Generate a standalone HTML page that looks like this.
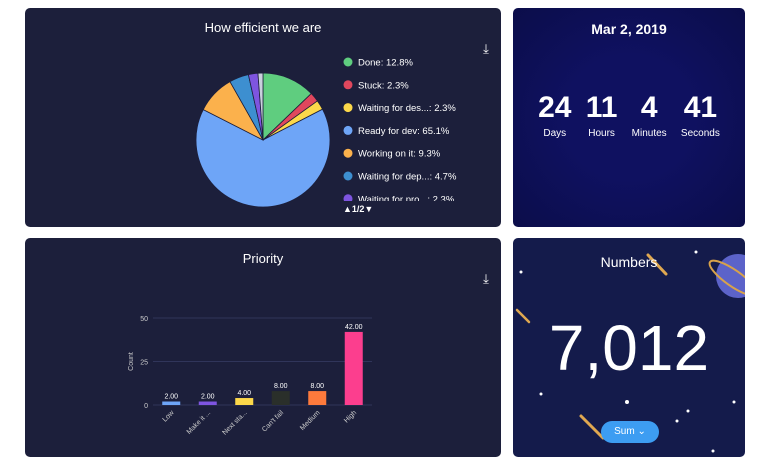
<!DOCTYPE html>
<html><head><meta charset="utf-8"><style>
body{margin:0;width:768px;height:467px;background:#fff;position:relative;overflow:hidden;font-family:"Liberation Sans",sans-serif;color:#fff}
.card{position:absolute;border-radius:5px;overflow:hidden}
.t{position:absolute;width:100%;text-align:center;font-size:13px}
</style></head><body>
<div class="card" style="left:25px;top:8px;width:476px;height:219px;background:#1c1f3b">
 <div class="t" style="top:12px">How efficient we are</div>
 <svg style="position:absolute;left:0;top:0" width="476" height="219" id="pie"><defs><clipPath id="lc"><rect x="300" y="40" width="170" height="153"/></clipPath></defs><g id="leg" clip-path="url(#lc)"></g></svg>
</div>
<div class="card" style="left:513px;top:8px;width:232px;height:219px;background:radial-gradient(ellipse at center,#0f1160 40%,#0b0d4a 100%)">
 <div class="t" style="top:13px;font-size:14px;font-weight:bold">Mar 2, 2019</div>
 <div style="position:absolute;top:83px;left:0;width:100%;display:flex;justify-content:space-around;padding:0 18px;box-sizing:border-box">
  <div style="text-align:center"><div style="font-size:30px;font-weight:bold">24</div><div style="font-size:10px;margin-top:3px">Days</div></div>
  <div style="text-align:center"><div style="font-size:30px;font-weight:bold">11</div><div style="font-size:10px;margin-top:3px">Hours</div></div>
  <div style="text-align:center"><div style="font-size:30px;font-weight:bold">4</div><div style="font-size:10px;margin-top:3px">Minutes</div></div>
  <div style="text-align:center"><div style="font-size:30px;font-weight:bold">41</div><div style="font-size:10px;margin-top:3px">Seconds</div></div>
 </div>
</div>
<div class="card" style="left:25px;top:238px;width:476px;height:219px;background:#1c1f3b">
 <div class="t" style="top:13px">Priority</div>
 <svg style="position:absolute;left:0;top:0" width="476" height="219" id="bar"></svg>
</div>
<div class="card" style="left:513px;top:238px;width:232px;height:219px;background:#141b4b">
 <svg style="position:absolute;left:0;top:0" width="232" height="219">
  <circle cx="225" cy="38" r="22" fill="#5c63c9"/>
  <ellipse cx="220" cy="40" rx="28" ry="8" fill="none" stroke="#d8a24a" stroke-width="2" transform="rotate(35 220 40)"/>
  <line x1="135" y1="17" x2="153" y2="36" stroke="#e0a850" stroke-width="3" stroke-linecap="round"/>
  <line x1="4" y1="72" x2="16" y2="84" stroke="#e0a850" stroke-width="2.5" stroke-linecap="round"/>
  <line x1="68" y1="178" x2="90" y2="200" stroke="#e0a850" stroke-width="3" stroke-linecap="round"/>
  <circle cx="8" cy="34" r="1.5" fill="#fff"/><circle cx="183" cy="14" r="1.5" fill="#fff"/><circle cx="28" cy="156" r="1.5" fill="#fff"/>
  <circle cx="114" cy="164" r="2" fill="#fff"/><circle cx="175" cy="173" r="1.5" fill="#fff"/><circle cx="164" cy="183" r="1.5" fill="#fff"/>
  <circle cx="221" cy="164" r="1.5" fill="#fff"/><circle cx="200" cy="213" r="1.5" fill="#fff"/>
 </svg>
 <div class="t" style="top:16px;font-size:14px">Numbers</div>
 <div class="t" style="top:73px;font-size:64px;font-weight:300">7,012</div>
 <div style="position:absolute;left:88px;top:183px;width:58px;height:22px;border-radius:11px;background:#3d9df2;font-size:10px;text-align:center;line-height:22px">Sum ⌄</div>
</div>
<script>
const pieLabels=["Done","Stuck","Waiting for des...","Ready for dev","Working on it","Waiting for dep...","Waiting for pro...","Other"];
const pieValues=[12.8,2.3,2.3,65.1,9.3,4.7,2.3,1.2];
const pieColors=["#5fcd7f","#e0475d","#fcd84a","#6ea5f7","#fbb14c","#3d8fd0","#7e55e0","#c9d0dc"];
const barCats=["Low","Make it ...","Next sta...","Can't fail","Medium","High"];
const barValues=[2,2,4,8,8,42];
const barColors=["#6ea5f7","#7e55e0","#fcd84a","#2a2f2a","#fd7a3c","#fc3e8e"];
const yTicks=[0,25,50];
const NS="http://www.w3.org/2000/svg";
function mk(p,t,a){const e=document.createElementNS(NS,t);for(const k in a)e.setAttribute(k,a[k]);p.appendChild(e);return e;}
// pie
const pie=document.getElementById('pie');
const leg=document.getElementById('leg');
const cx=238,cy=132,r=67;let tot=pieValues.reduce((a,b)=>a+b,0),ang=-Math.PI/2;
pieValues.forEach((v,i)=>{const a2=ang+v/tot*2*Math.PI;
 const x1=cx+r*Math.cos(ang),y1=cy+r*Math.sin(ang),x2=cx+r*Math.cos(a2),y2=cy+r*Math.sin(a2);
 const p=mk(pie,'path',{d:`M${cx},${cy}L${x1},${y1}A${r},${r} 0 ${a2-ang>Math.PI?1:0} 1 ${x2},${y2}Z`,fill:pieColors[i],stroke:'#1c1f3b','stroke-width':0.8});
 
 
 ang=a2;});
for(let i=0;i<7;i++){const y=54+i*22.8;
 const c=mk(leg,'circle',{cx:323,cy:y,r:4.5,fill:pieColors[i]});
 
 
 const t=mk(leg,'text',{x:333,y:y+3.5,fill:'#fff','font-size':'9.5'});
 t.textContent=pieLabels[i]+": "+pieValues[i]+"%";
 
 }
const pg=mk(pie,'text',{x:318,y:204,fill:'#fff','font-size':'9','font-weight':'bold'});pg.textContent="▲1/2▼";


const dl=mk(pie,'text',{x:461,y:45,fill:'#fff','font-size':'13','text-anchor':'middle'});dl.textContent="⤓";


// bars
const bar=document.getElementById('bar');
const x0=128,x1=347,y0=167,yTop=80,yMax=50;
const ys=v=>y0-(v/yMax)*(y0-yTop);
const bw=(x1-x0)/barCats.length;
yTicks.forEach(t=>{const l=mk(bar,'line',{x1:x0,x2:x1,y1:ys(t),y2:ys(t),stroke:'#30355a'});
 
 
 const tx=mk(bar,'text',{x:x0-5,y:ys(t)+3,fill:'#ccc','font-size':'7','text-anchor':'end'});tx.textContent=t;
 
 });
const yl=mk(bar,'text',{x:0,y:0,fill:'#ccc','font-size':'7','text-anchor':'middle',transform:`translate(108,${(y0+yTop)/2}) rotate(-90)`});yl.textContent="Count";


barValues.forEach((v,i)=>{const cxb=x0+bw*(i+0.5),w=18;
 const rc=mk(bar,'rect',{x:cxb-w/2,y:ys(v),width:w,height:Math.max(y0-ys(v),1),fill:barColors[i]});
 
 
 const lb=mk(bar,'text',{x:cxb,y:ys(v)-3,fill:'#fff','font-size':'7','text-anchor':'middle'});lb.textContent=v.toFixed(2);
 
 
 const cl=mk(bar,'text',{x:0,y:0,fill:'#ccc','font-size':'7','text-anchor':'end',transform:`translate(${cxb+3},${y0+8}) rotate(-45)`});cl.textContent=barCats[i];
 
 });
const dl2=mk(bar,'text',{x:461,y:45,fill:'#fff','font-size':'13','text-anchor':'middle'});dl2.textContent="⤓";


</script>
</body></html>
